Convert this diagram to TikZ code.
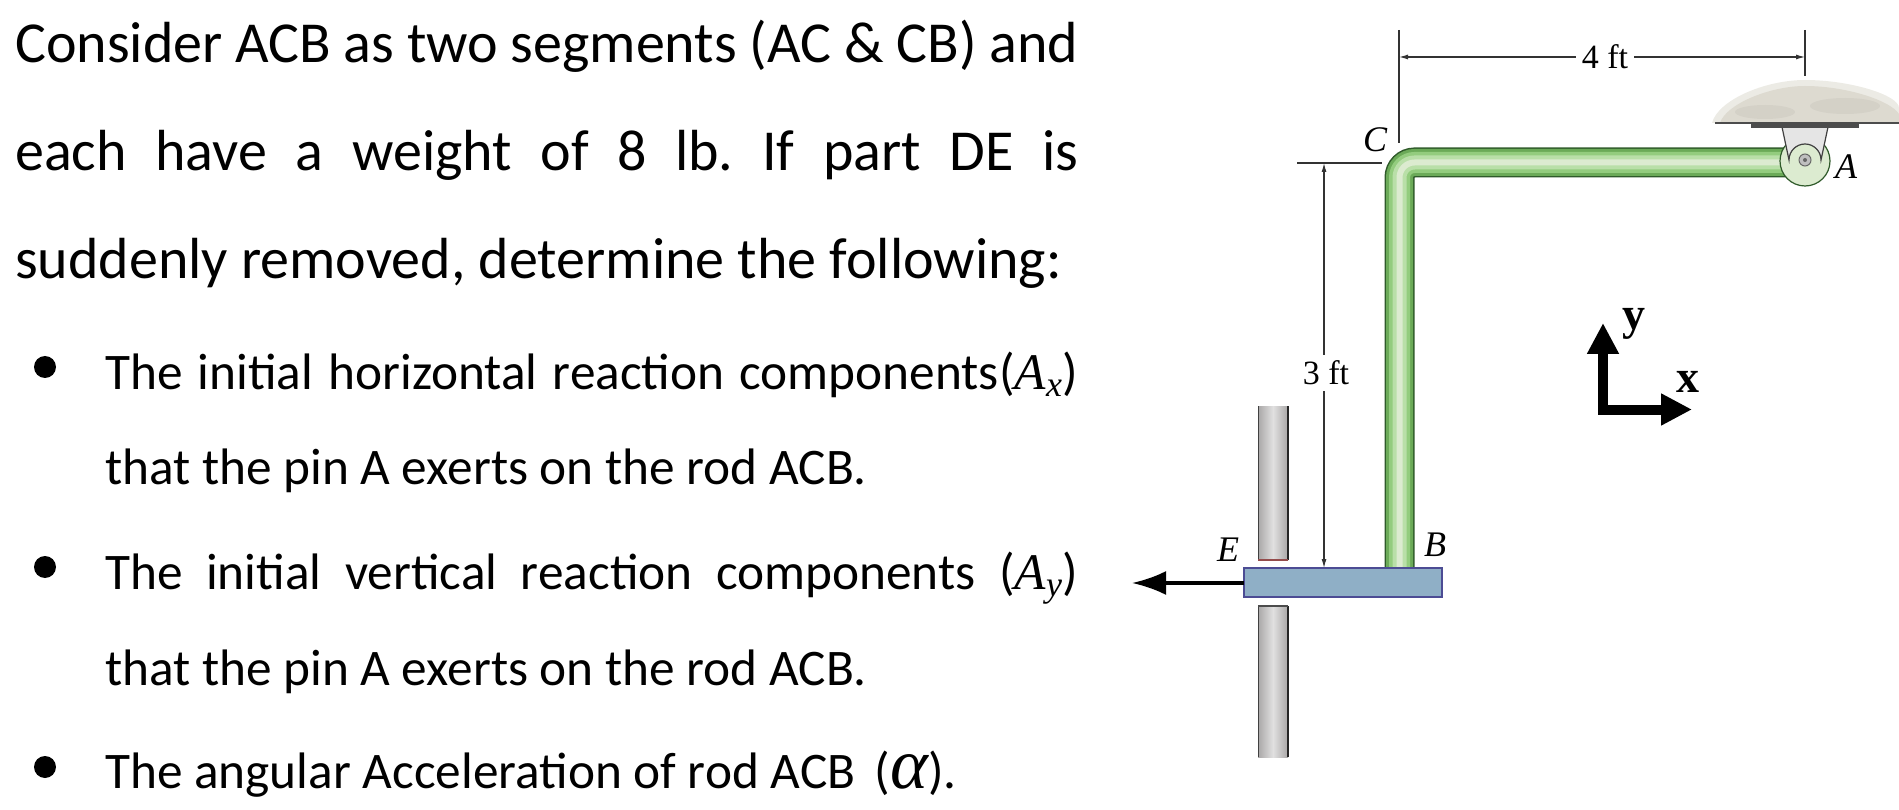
\documentclass[tikz,border=0pt]{standalone}
\usepackage{fontspec}
\usepackage{amsmath}
\usetikzlibrary{arrows.meta, calc}
\setmainfont{Carlito}
\newfontfamily\figfont{Liberation Serif}
\frenchspacing
\newcommand{\mathvar}[2]{{\figfont\itshape #1\textsubscript{#2}}}
\definecolor{rodedge}{HTML}{2F5A2A}
\definecolor{rodA}{HTML}{6BAA58}
\definecolor{rodB}{HTML}{93CC7E}
\definecolor{rodC}{HTML}{B9DFA8}
\definecolor{rodD}{HTML}{DCEBD0}
\definecolor{platefill}{HTML}{8FAFC6}
\definecolor{guidegray}{HTML}{A9A7A7}
\definecolor{groundgray}{HTML}{DDDAD0}
\tikzset{
    textline/.style={anchor=base west, inner sep=0pt, font=\fontsize{51.3}{60}\selectfont},
    bigline/.style={anchor=base west, inner sep=0pt, font=\fontsize{58}{60}\selectfont},
    bulletdot/.style={circle, fill=black, minimum size=22pt, inner sep=0pt},
    ptlabel/.style={inner sep=0pt, font=\figfont\itshape\fontsize{36}{36}\selectfont},
    dimlabel/.style={inner sep=0pt, font=\figfont\fontsize{34}{34}\selectfont},
    axlabel/.style={inner sep=0pt, font=\figfont\bfseries\fontsize{46}{46}\selectfont},
    dimline/.style={draw=black!80, line width=1.1pt},
    axisarrow/.style={line width=10pt, -{Triangle[length=31pt, width=30pt]}},
}
\begin{document}
\begin{tikzpicture}[x=1pt, y=-1pt]
    \useasboundingbox (0,0) rectangle (1899,810);
    % Texto
    \node[bigline] (line1) at (15,63) {\makebox[1063pt][s]{Consider ACB as two segments (AC \& CB) and}};
    \node[bigline] (line2) at (15,171) {\makebox[1063pt][s]{each have a weight of 8 lb. If part DE is}};
    \node[bigline] (line3) at (15,279) {suddenly removed, determine the following:};
    \node[textline] (ax1) at (105,389) {\makebox[973pt][s]{The initial horizontal reaction components(\mathvar{A}{x})}};
    \node[textline] (ax2) at (105,484) {that the pin A exerts on the rod ACB.};
    \node[textline] (ay1) at (105,589) {\makebox[973pt][s]{The initial vertical reaction components (\mathvar{A}{y})}};
    \node[textline] (ay2) at (105,685) {that the pin A exerts on the rod ACB.};
    \node[textline] (alpha1) at (105,788) {The angular Acceleration of rod ACB\hspace{8pt} ({\figfont\itshape\fontsize{72}{72}\selectfont α}).};
    % Bullets
    \foreach \n/\y in {b1/367, b2/567, b3/767} {
        \node[bulletdot] (\n) at (45,\y) {};
    }
    % Suelo
    \fill[groundgray!55] (1712,123) .. controls (1718,100) and (1765,80) .. (1805,80) .. controls (1850,80) and (1899,95) .. (1899,108) -- (1899,123) -- cycle;
    \fill[groundgray] (1720,123) .. controls (1726,104) and (1770,86) .. (1805,86) .. controls (1845,86) and (1890,100) .. (1899,114) -- (1899,123) -- cycle;
    \fill[groundgray!60!black, opacity=0.10] (1765,112) ellipse (30 and 7);
    \fill[groundgray!60!black, opacity=0.10] (1845,106) ellipse (35 and 8);
    % Guias
    \foreach \top/\bot in {406/560, 606/757} {
        \shade[left color=guidegray, right color=guidegray, middle color=guidegray!35] (1258,\top) rectangle (1288,\bot);
        \draw[line width=1pt, black!75] (1258,\top) -- (1258,\bot);
        \draw[line width=1.5pt, black!85] (1288,\top) -- (1288,\bot);
    }
    \draw[line width=1.2pt, black!60!red!70] (1258,560) -- (1288,560);
    \draw[line width=1.2pt, black!70] (1258,606) -- (1288,606);
    % Barra
    \foreach \w/\c in {30/rodedge, 27/rodA, 21/rodB, 14/rodC, 6/rodD} {
        \draw[line width=\w pt, draw=\c, rounded corners=15pt] (1399.5,568) -- (1399.5,162.5) -- (1800,162.5);
    }
    % Placa
    \draw[draw=black!60!blue!70, line width=1.2pt, fill=platefill] (1244,568) rectangle (1442,597);
    % Pasador
    \draw[draw=rodedge, fill=rodD, line width=1.2pt] (1805,161) circle (25);
    \draw[black!75, line width=1.2pt, fill=black!10] (1782,127) -- (1789,160) arc[start angle=180, end angle=360, radius=16] -- (1828,127) -- cycle;
    \draw[black!60, line width=1pt, fill=black!25] (1805,160) circle (6);
    \fill[black!60] (1805,160) circle (2);
    \draw[black!70, line width=2.5pt] (1715,123) -- (1899,123);
    \draw[black!70, line width=3pt, fill=black!30] (1752,124) rectangle (1857,127);
    % Cotas
    \node[dimlabel] (ft4) at (1605,57) {4 ft};
    \node[dimlabel] (ft3) at (1326,373) {3 ft};
    \coordinate (extCtop) at (1399,30);
    \coordinate (extCbot) at (1399,143);
    \coordinate (extAtop) at (1805,30);
    \coordinate (extAbot) at (1805,76);
    \coordinate (extCleft) at (1297,163);
    \coordinate (extCright) at (1382,163);
    \coordinate (dimL) at (1399,57);
    \coordinate (dimR) at (1805,57);
    \coordinate (dimT) at (1324,163);
    \coordinate (dimB) at (1324,568);
    \draw[dimline] (extCtop) -- (extCbot);
    \draw[dimline] (extAtop) -- (extAbot);
    \draw[dimline] (extCleft) -- (extCright);
    \draw[dimline, {Latex[length=9pt, width=5pt]}-] (dimL) -- ([xshift=-6pt]ft4.west);
    \draw[dimline, -{Latex[length=9pt, width=5pt]}] ([xshift=6pt]ft4.east) -- (dimR);
    \draw[dimline, -{Latex[length=9pt, width=5pt]}] ([yshift=6pt]ft3.north -| dimT) -- (dimT);
    \draw[dimline, -{Latex[length=9pt, width=5pt]}] ([yshift=-6pt]ft3.south -| dimB) -- (dimB);
    % Etiquetas
    \node[ptlabel] (ptC) at (1375,140) {C};
    \node[ptlabel] (ptA) at (1846,167) {A};
    \node[ptlabel] (ptE) at (1228,550) {E};
    \node[ptlabel] (ptB) at (1435,545) {B};
    % Fuerza en E
    \coordinate (plateE) at (1244,583);
    \coordinate (pullE) at (1132,583);
    \draw[line width=3.5pt, -{Latex[length=34pt, width=24pt]}] (plateE) -- (pullE);
    % Ejes
    \coordinate (origin) at (1603,409.5);
    \coordinate (axisY) at (1603,323);
    \coordinate (axisX) at (1692,409.5);
    \draw[axisarrow] ([yshift=-5pt]origin) -- (axisY);
    \draw[axisarrow] ([xshift=-5pt]origin) -- (axisX);
    \node[axlabel] (yaxis) at (1634,324) {y};
    \node[axlabel] (xaxis) at (1688,382) {x};
\end{tikzpicture}
\end{document}
